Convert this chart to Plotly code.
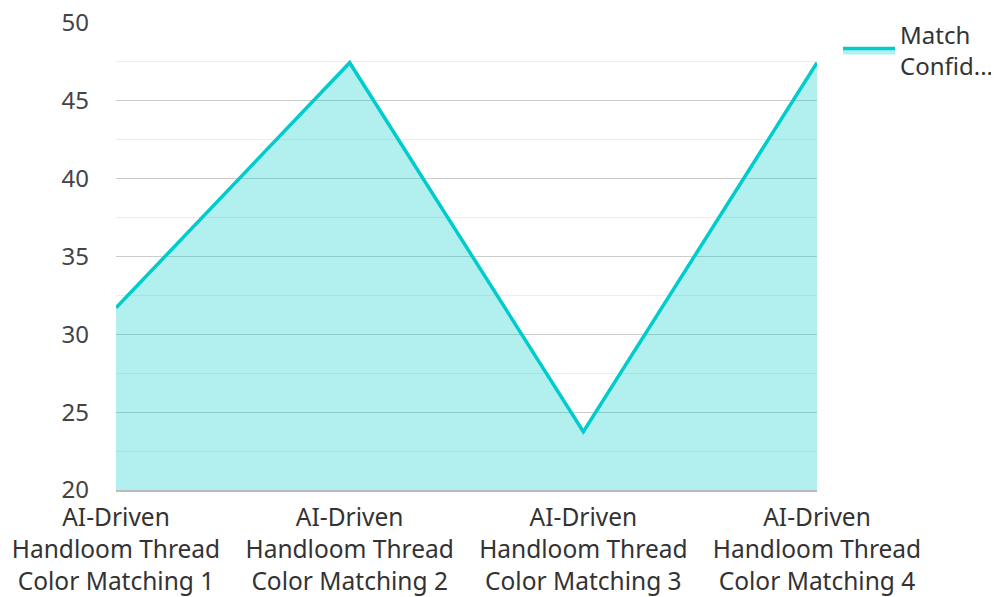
import plotly.graph_objects as go

categories = ["AI-Driven<br>Handloom Thread<br>Color Matching 1",
              "AI-Driven<br>Handloom Thread<br>Color Matching 2",
              "AI-Driven<br>Handloom Thread<br>Color Matching 3",
              "AI-Driven<br>Handloom Thread<br>Color Matching 4"]
values = [31.7, 47.45, 23.75, 47.45]
series_name = "Match<br>Confid..."

fig = go.Figure()
fig.add_trace(go.Scatter(
    x=categories, y=values, name=series_name, mode="lines",
    line=dict(color="#00cccc", width=3.5),
    fill="tozeroy", fillcolor="rgba(0,204,204,0.3)",
))

fig.update_layout(
    width=999, height=597,
    margin=dict(l=108, r=190, t=15, b=115, autoexpand=False),
    paper_bgcolor="white", plot_bgcolor="white",
    font=dict(family="Noto Sans", size=24, color="#444"),
    showlegend=True,
    legend=dict(x=1.03, y=1.022, xanchor="left", yanchor="top",
                font=dict(size=24, color="#333"), itemwidth=52,
                tracegroupgap=0),
    xaxis=dict(range=[0, 3], showgrid=False, showline=True, automargin=False,
               linecolor="#bbbbbb", linewidth=1.5, ticks="",
               tickfont=dict(size=24.5, color="#333"), ticklabelstandoff=5),
    yaxis=dict(range=[20, 50], dtick=5, showgrid=True, gridcolor="#cccccc",
               gridwidth=1, zeroline=False, ticks="", automargin=False,
               ticklabeloverflow="allow",
               ticklabelstandoff=26, tickfont=dict(size=24, color="#444"),
               minor=dict(dtick=2.5, showgrid=True, gridcolor="#ececec", gridwidth=1)),
)

fig.write_html("out.html")
